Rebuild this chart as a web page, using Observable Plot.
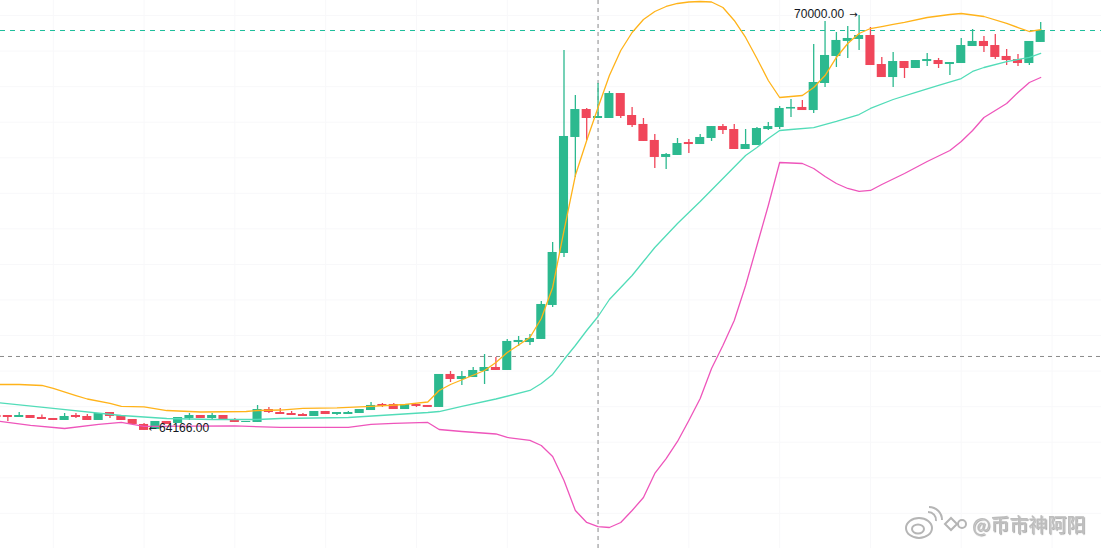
<!DOCTYPE html>
<html>
<head>
<meta charset="utf-8">
<script src="https://cdn.jsdelivr.net/npm/d3@7"></script>
<script src="https://cdn.jsdelivr.net/npm/@observablehq/plot@0.6"></script>
<style>
html,body{margin:0;padding:0;background:#fff;overflow:hidden}
#wrap{position:relative;width:1101px;height:548px}
#wrap svg{display:block}
#mark{position:absolute;left:904px;top:503px;height:40px;width:195px;display:flex;align-items:center;gap:4px;white-space:nowrap;filter:blur(.6px)}
#mark span{font:500 19px "Noto Sans CJK SC",sans-serif;color:#bdbdbd;text-shadow:0 0 2px #fff,1px 1px 1px #8f8f8f;white-space:nowrap}
</style>
</head>
<body>
<div id="wrap"></div>
<script>
const opens = [64376,64376,64348,64376,64348,64334,64306,64376,64362,64306,
64418,64376,64320,64250,64179,64292,64264,64334,64376,64334,
64376,64306,64278,64278,64460,64418,64404,64390,64362,64432,
64390,64390,64404,64446,64531,64531,64460,64531,64517,64489,
64953,64882,64910,64995,65051,65009,65402,65402,65445,65923,
66654,68285,68678,68552,68552,68903,68594,68468,68243,68004,
68032,68214,68186,68271,68439,68397,68116,68172,68397,68425,
68685,68707,68664,69044,69424,69635,69663,69719,69311,69128,
69353,69255,69353,69367,69311,69325,69564,69635,69578,69424,
69381,69325,69621];
const closes = [64348,64348,64376,64334,64320,64306,64362,64348,64306,64404,
64362,64306,64250,64166,64292,64250,64348,64376,64334,64376,
64306,64278,64292,64460,64418,64390,64376,64362,64432,64390,
64418,64418,64460,64517,64503,64460,64531,64503,64489,64953,
64882,64924,65009,65051,65009,65417,65431,65459,65937,66668,
68299,68678,68552,68580,68903,68580,68453,68229,68004,68046,
68200,68186,68285,68439,68383,68116,68186,68411,68439,68693,
68707,68664,69058,69438,69649,69677,69719,69297,69128,69353,
69255,69367,69381,69311,69339,69578,69635,69564,69410,69367,
69325,69635,69789];
const highs = [64376,64376,64418,64376,64383,64334,64404,64404,64390,64404,
64418,64376,64320,64264,64292,64292,64348,64404,64376,64404,
64376,64334,64292,64517,64489,64475,64432,64404,64432,64432,
64418,64432,64460,64559,64545,64545,64531,64531,64517,64953,
64995,64995,65051,65234,65192,65445,65487,65515,65979,66808,
69508,68875,68693,69044,68932,68903,68707,68552,68327,68060,
68271,68257,68327,68439,68468,68468,68397,68425,68496,68721,
68819,68805,69592,69916,69761,69845,70000,69831,69410,69480,
69353,69367,69466,69396,69339,69677,69803,69705,69733,69522,
69452,69635,69902];
const lows = [64348,64292,64348,64334,64320,64306,64306,64334,64306,64306,
64334,64306,64250,64166,64179,64250,64264,64306,64334,64320,
64306,64278,64278,64278,64404,64390,64376,64362,64362,64390,
64376,64390,64404,64446,64489,64460,64460,64489,64489,64489,
64840,64798,64910,64812,65009,65009,65346,65360,65445,65895,
66598,67722,68243,68552,68552,68552,68425,68229,67849,67835,
68032,68060,68186,68229,68327,68116,68116,68172,68383,68397,
68566,68664,68622,68988,69269,69396,69508,69297,69128,68988,
69114,69255,69283,69255,69156,69325,69564,69480,69381,69297,
69283,69297,69621];

// Bollinger bands, read at these candle numbers
const upperAt = [0,2,4,5,7,8,10,11,13,15,18,22,23,25,27,30,33,36,38,39,40,43,44,45,47,48,49,50,51,52,53,54,55,56,57,58,59,60,61,62,63,64,65,66,67,68,69,70,71,72,73,74,75,76,77,78,79,80,82,84,85,87,89,90,91,92];
const upper = [64812,64812,64798,64756,64657,64608,64545,64503,64496,64446,64425,64432,64446,64453,64475,64482,64503,64531,64566,64728,64812,65009,65121,65262,65473,65740,66176,66977,67750,68243,68707,69156,69508,69761,69944,70056,70127,70169,70190,70197,70190,70113,69930,69691,69396,69086,68847,68861,68875,68988,69156,69410,69606,69747,69817,69845,69874,69902,69972,70014,70028,69986,69888,69831,69775,69803];
const middleAt = [0,5,11,15,19,23,25,31,38,39,41,44,47,48,49,50,51,52,53,54,55,56,57,58,60,62,64,66,67,68,69,70,72,74,76,77,79,81,83,85,86,87,89,91,92];
const middle = [64559,64475,64376,64334,64320,64320,64334,64348,64418,64432,64503,64608,64728,64826,64953,65163,65360,65571,65768,66007,66176,66344,66541,66738,67076,67385,67708,68032,68144,68271,68383,68397,68425,68510,68608,68693,68819,68918,69016,69114,69213,69269,69353,69410,69466];
const lowerAt = [0,3,6,9,11,12,13,21,25,31,33,35,38,39,41,44,45,47,48,49,50,51,52,53,54,55,56,57,58,59,60,61,62,63,64,65,66,67,68,69,71,72,73,74,75,76,77,78,80,82,84,85,86,87,89,90,91,92];
const lower = [64299,64236,64193,64250,64278,64250,64222,64229,64208,64208,64250,64264,64278,64179,64151,64116,64067,64025,63954,63800,63462,63040,62872,62815,62801,62872,63040,63223,63561,63771,64011,64306,64615,65037,65360,65712,66204,66766,67329,67933,67919,67849,67736,67638,67568,67526,67540,67624,67779,67947,68102,68229,68383,68566,68763,68918,69058,69128];

const crossPrice = 65206;
const crossCandle = 53;
const lastPrice = 69789;
const highIndex = 76, highLabel = "70000.00", highPrice = 70000;
const lowIndex = 13, lowLabel = "64166.00", lowPrice = 64166;

const GREEN = "#2cb98f", RED = "#f0465a";
const candles = opens.map((o,i)=>({i,o,c:closes[i],h:highs[i],l:lows[i],col:closes[i]>=o?GREEN:RED}));
const series = (at,vals)=>at.map((i,k)=>({i,v:vals[k]}));
const gridY = d3.range(63000,70500,500);
const gridX = d3.range(5,98,8);
const font = '"Liberation Sans",Arial,sans-serif';
const arrowFont = '"DejaVu Sans",sans-serif';
const ink = "#131722";

const chart = Plot.plot({
  width:1101,height:548,margin:0,
  x:{domain:[0.352,97.357],range:[0,1101],axis:null},
  y:{domain:[62506,70211],range:[548,0],axis:null},
  style:{background:"#fff"},
  marks:[
    Plot.ruleY(gridY,{stroke:"#f8f8fa",strokeWidth:1}),
    Plot.ruleX(gridX,{stroke:"#f8f8fa",strokeWidth:1}),
    Plot.ruleX([crossCandle],{stroke:"#8a8a8a",strokeWidth:1,strokeDasharray:"4,4"}),
    Plot.ruleY([crossPrice],{stroke:"#8a8a8a",strokeWidth:1,strokeDasharray:"4,4"}),
    Plot.ruleY([lastPrice],{stroke:"#1fbf9c",strokeWidth:1,strokeDasharray:"5,5"}),
    Plot.ruleX(candles,{x:"i",y1:"l",y2:"h",stroke:"col",strokeWidth:1.3}),
    Plot.rect(candles,{x1:d=>d.i-0.4,x2:d=>d.i+0.4,y1:"o",y2:"c",fill:"col"}),
    Plot.line(series(upperAt,upper),{x:"i",y:"v",stroke:"#ffb31a",strokeWidth:1.3}),
    Plot.line(series(middleAt,middle),{x:"i",y:"v",stroke:"#52dcb8",strokeWidth:1.3}),
    Plot.line(series(lowerAt,lower),{x:"i",y:"v",stroke:"#ee55bb",strokeWidth:1.3}),
    Plot.text([highLabel],{x:highIndex,y:highPrice,dx:-15,dy:-1,textAnchor:"end",fontSize:12,fontFamily:font,fill:ink}),
    Plot.text(["→"],{x:highIndex,y:highPrice,dx:-1.5,dy:-1,textAnchor:"end",fontSize:10,fontFamily:arrowFont,fill:ink}),
    Plot.text(["←"],{x:lowIndex,y:lowPrice,dx:4.5,dy:-2,textAnchor:"start",fontSize:10,fontFamily:arrowFont,fill:ink}),
    Plot.text([lowLabel],{x:lowIndex,y:lowPrice,dx:15,dy:-2,textAnchor:"start",fontSize:12,fontFamily:font,fill:ink})
  ]
});
const wrap = document.getElementById("wrap");
wrap.appendChild(chart);
const mark = document.createElement("div");
mark.id = "mark";
mark.innerHTML = '<svg width="64" height="36" viewBox="0 0 64 36" style="flex:none"><g fill="none" stroke="#b5b5b5" stroke-width="2"><ellipse cx="15" cy="23" rx="13" ry="10"/><ellipse cx="14" cy="24" rx="6" ry="4.5"/><path d="M24 7a8 8 0 0 1 8 9M25 2a13 13 0 0 1 13 13"/><path d="M41 19l6-6 6 6-6 6z"/><circle cx="58" cy="19" r="4"/></g></svg><span>@币市神阿阳</span>';
wrap.appendChild(mark);
</script>
</body>
</html>
